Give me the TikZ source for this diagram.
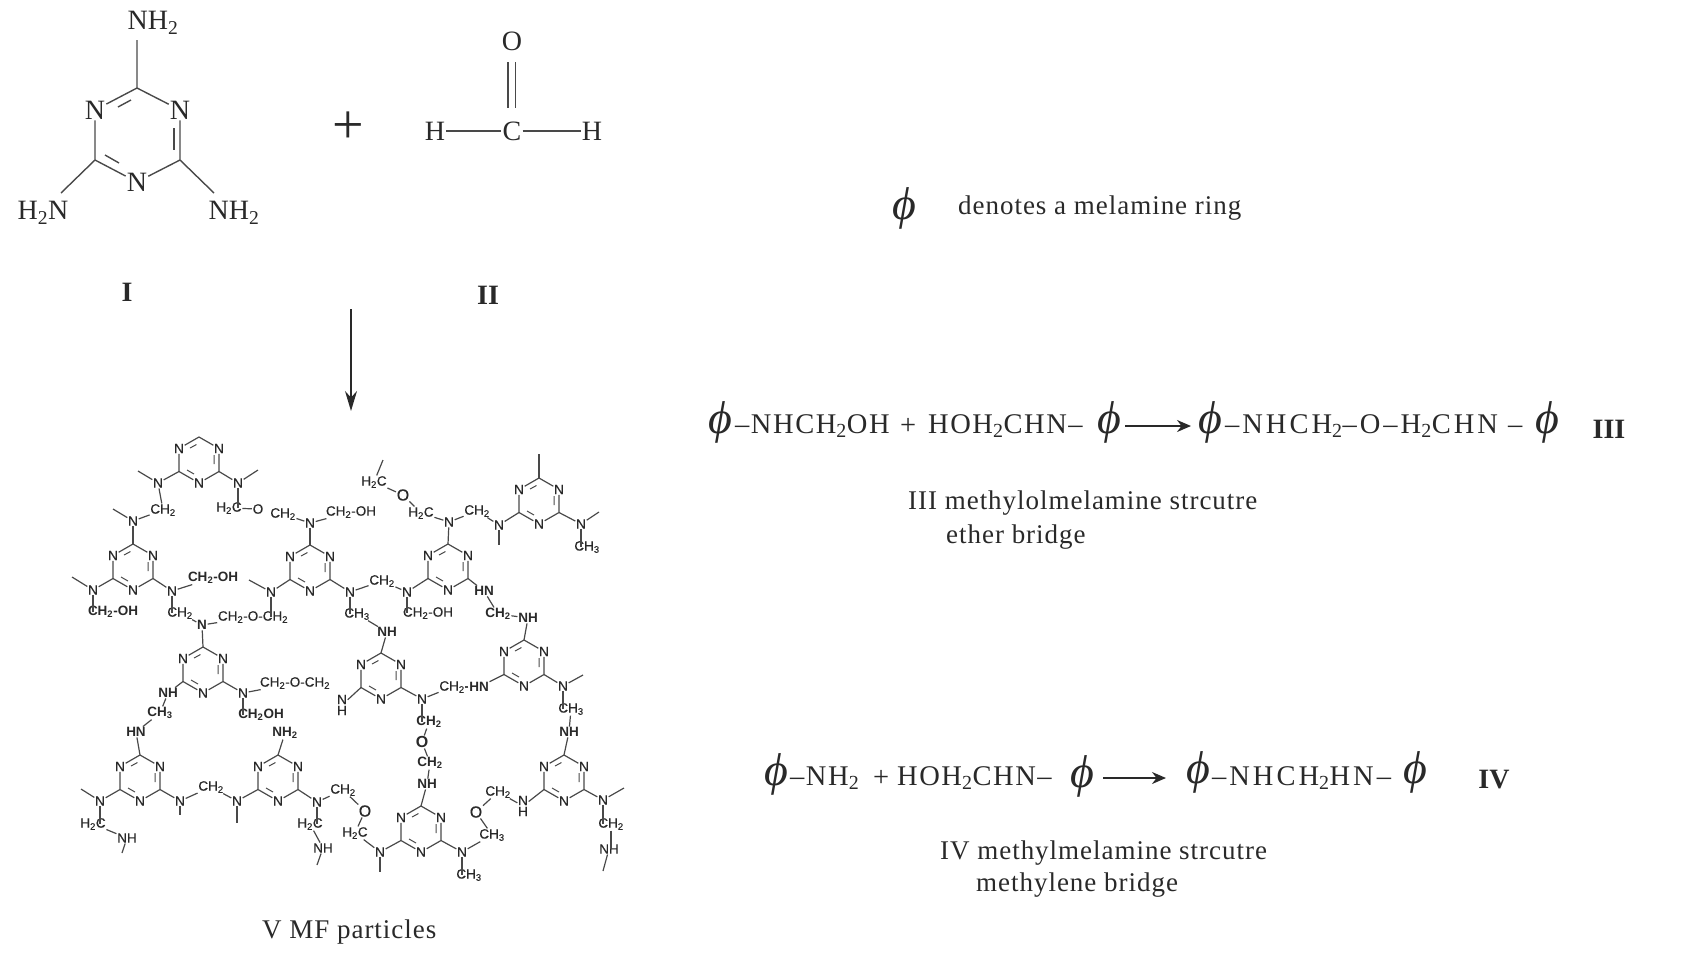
\documentclass[tikz,border=0pt]{standalone}
\usepackage{fontspec}
\setmainfont{Liberation Serif}
\setsansfont{Liberation Sans}
\newfontfamily\atomfont[FakeBold=0.35]{Liberation Sans}
\newfontfamily\captfont[LetterSpace=3.6]{Liberation Serif}
\newfontfamily\eqfont[LetterSpace=5.5]{Liberation Serif}
\newfontfamily\eqwide[LetterSpace=10.5]{Liberation Serif}
\usetikzlibrary{arrows.meta}
\definecolor{ink}{gray}{0.16}
\newcommand{\two}{\textsubscript{2}}
\newcommand{\three}{\textsubscript{3}}
\newcommand{\phiglyph}{{\fontsize{46}{46}\selectfont\itshape ϕ}}
\tikzset{
  x=1pt,y=-1pt,
  atom/.style={inner sep=0.6pt,text=ink,font=\atomfont\fontsize{13.5}{14}\selectfont},
  hatom/.style={atom,font=\sffamily\bfseries\fontsize{13.5}{14}\selectfont},
  bond/.style={draw=ink!85,line width=1.2pt},
  bigatom/.style={inner sep=1pt,text=ink,font=\fontsize{28}{30}\selectfont},
  capt/.style={inner sep=0pt,anchor=west,text=ink,font=\captfont\fontsize{27}{29}\selectfont},
  eqt/.style={inner sep=0pt,anchor=west,text=ink,font=\eqfont\fontsize{28.5}{30}\selectfont},
  eqw/.style={inner sep=0pt,anchor=west,text=ink,font=\eqwide\fontsize{28.5}{30}\selectfont},
  phn/.style={inner sep=0pt,text=ink},
  romn/.style={inner sep=0pt,text=ink,font=\bfseries\fontsize{28}{30}\selectfont},
  bigbond/.style={draw=ink!85,line width=1.4pt},
  harrow/.style={draw=ink,line width=1.8pt,-{Stealth[length=14pt,width=12pt]}}
}
% name x y : triazine ring
\newcommand{\ring}[3]{%
  \coordinate (#1t) at (#2,#3-23);
  \coordinate (#1l) at (#2-20,#3+11.5);
  \coordinate (#1r) at (#2+20,#3+11.5);
  \node[atom] (#1nl) at (#2-20,#3-11.5) {N};
  \node[atom] (#1nr) at (#2+20,#3-11.5) {N};
  \node[atom] (#1nb) at (#2,#3+23) {N};
  \draw[bond] (#1t)--(#1nl) (#1t)--(#1nr) (#1r)--(#1nr) (#1r)--(#1nb) (#1l)--(#1nb) (#1l)--(#1nl);
  \draw[bond,line width=1pt] (#2-2.5,#3-15.5)--(#2-9,#3-12) (#2-12,#3+10)--(#2-5,#3+14) (#2+15,#3+4)--(#2+15,#3-5);
}
\newcommand{\A}[4]{\node[atom] (#1) at (#2,#3) {#4};}
\newcommand{\Ab}[4]{\node[hatom] (#1) at (#2,#3) {#4};}
\newcommand{\B}[2]{\draw[bond] (#1)--(#2);}
\newcommand{\V}[2]{\draw[bond] (#1)--(#1|-#2);}
\newcommand{\F}[3]{\coordinate (#1-f) at (#2,#3);\draw[bond] (#1)--(#1-f);}
\begin{document}
\begin{tikzpicture}
\useasboundingbox (0,0) rectangle (1695,954);
% melamine
\node[bigatom] (tn) at (153,23) {NH\two};
\coordinate (tc1) at (137,88);
\node[bigatom] (nl) at (95,110) {N};
\node[bigatom] (nr) at (180,110) {N};
\coordinate (tcl) at (95,160);
\coordinate (tcr) at (180,160);
\node[bigatom] (nb) at (137,182) {N};
\node[bigatom] (ln) at (43,213) {H\two N};
\node[bigatom] (rn) at (234,213) {NH\two};
\coordinate (tnb) at (137,40);
\coordinate (lnb) at (61,193);
\coordinate (rnb) at (214,193);
\draw[bigbond] (tnb)--(tc1) (tc1)--(nl) (tc1)--(nr) (tcr)--(nr) (tcr)--(nb) (tcl)--(nb) (tcl)--(nl) (tcl)--(lnb) (tcr)--(rnb);
\draw[bigbond] (118,107)--(131,100);
\draw[bigbond] (105,155)--(119,163);
\draw[bigbond] (174,128)--(174,150);
\node[bigatom] (plus) at (348,128) {\fontsize{56}{56}\selectfont +};
% formaldehyde
\node[bigatom] (oo) at (512,41) {O};
\node[bigatom] (cc) at (512,131) {C};
\node[bigatom] (h1) at (435,131) {H};
\node[bigatom] (h2) at (592,131) {H};
\draw[bigbond] (508,62)--(508,108) (515.5,62)--(515.5,108);
\draw[bigbond] (h1)--(cc) (cc)--(h2);
\node[romn] (lI) at (127,292) {I};
\node[romn] (lII) at (488,295) {II};
\coordinate (ars) at (351,309);
\coordinate (are) at (351,411);
\draw[draw=ink,line width=1.5pt,-{Stealth[length=20pt,width=12pt]}] (ars)--(are);
% legend
\node[phn] (p0) at (904,208) {\phiglyph};
\node[capt] (den) at (958,208) {denotes a melamine ring};
% equation III
\node[phn] (p1) at (720,422) {\phiglyph};
\node[eqt] (t1) at (735,426) {–NHCH\two OH};
\node[eqt] (pl1) at (900,426) {+};
\node[eqt] (t2) at (928,426) {HOH\two CHN–};
\node[phn] (p2) at (1109,422) {\phiglyph};
\node[phn] (p3) at (1210,422) {\phiglyph};
\coordinate (a1s) at (1125,426);
\coordinate (a1e) at (1191,426);
\draw[harrow] (a1s) -- (a1e);
\node[eqw] (t3) at (1225,426) {–NHCH\two–O–H\two CHN –};
\node[phn] (p4) at (1547,422) {\phiglyph};
\node[romn] (lIII) at (1609,429) {III};
\node[capt] (c1) at (908,503) {III methylolmelamine strcutre};
\node[capt] (c2) at (946,537) {ether bridge};
% equation IV
\node[phn] (p5) at (776,774) {\phiglyph};
\node[eqt] (t4) at (790,778) {–NH\two};
\node[eqt] (pl2) at (873,778) {+};
\node[eqt] (t5) at (897,778) {HOH\two CHN–};
\node[phn] (p6) at (1082,776) {\phiglyph};
\node[phn] (p7) at (1198,772) {\phiglyph};
\coordinate (a2s) at (1103,778);
\coordinate (a2e) at (1166,778);
\draw[harrow] (a2s)--(a2e);
\node[eqw] (t6) at (1212,778) {–NHCH\two HN–};
\node[phn] (p8) at (1415,772) {\phiglyph};
\node[romn] (lIV) at (1494,780) {IV};
\node[capt] (c3) at (940,853) {IV methylmelamine strcutre};
\node[capt] (c4) at (976,885) {methylene bridge};
\node[capt] (c5) at (262,932) {V MF particles};
% rings
\ring{R1}{199}{460}
\ring{R2}{133}{567}
\ring{R3}{310}{568}
\ring{R4}{448}{567}
\ring{R5}{539}{501}
\ring{R6}{203}{670}
\ring{R7}{381}{676}
\ring{R8}{524}{663}
\ring{R9}{140}{778}
\ring{R10}{278}{778}
\ring{R11}{421}{829}
\ring{R12}{564}{778}
% R1
\A{a1}{158}{483}{N}\A{a2}{238}{483}{N}
\B{R1l}{a1}\B{R1r}{a2}\F{a1}{138}{471}\F{a2}{258}{470}
\A{a3}{163}{510}{CH\two}\B{a1}{a3}
\A{a4}{229}{508}{H\two C}\A{a5}{258}{509}{O}\V{a2}{a4}\B{a4}{a5}
% R2
\A{b1}{133}{521}{N}\B{R2t}{b1}\F{b1}{113}{509}\B{b1}{a3}
\A{b2}{93}{590}{N}\B{R2l}{b2}\F{b2}{72}{577}
\Ab{b3}{113}{612}{CH\two-OH}\V{b2}{b3}
\A{b4}{172}{591}{N}\B{R2r}{b4}
\Ab{b5}{213}{578}{CH\two-OH}\B{b4}{b5}
\A{b6}{180}{613}{CH\two}\V{b4}{b6}
\Ab{b7}{202}{625}{N}\B{b6}{b7}\B{R6t}{b7}
\A{b8}{253}{617}{CH\two-O-CH\two}\B{b7}{b8}
% R3
\A{c1a}{271}{592}{N}\B{R3l}{c1a}\F{c1a}{249}{580}\V{c1a}{b8}
\A{c2a}{310}{523}{N}\B{R3t}{c2a}
\A{c3a}{283}{514}{CH\two}\B{c2a}{c3a}
\A{c4a}{351}{512}{CH\two-OH}\B{c2a}{c4a}
\A{c5a}{350}{592}{N}\B{R3r}{c5a}
\A{c6a}{382}{581}{CH\two}\B{c5a}{c6a}
\A{c7a}{357}{614}{CH\three}\V{c5a}{c7a}
\Ab{c8a}{387}{632}{NH}\B{c7a}{c8a}\B{R7t}{c8a}
% R4
\A{d1}{407}{592}{N}\B{R4l}{d1}\B{c6a}{d1}
\A{d2}{428}{613}{CH\two-OH}\V{d1}{d2}
\A{d3}{449}{522}{N}\B{R4t}{d3}
\A{d4}{421}{513}{H\two C}\B{d3}{d4}
\A{d5}{477}{511}{CH\two}\B{d3}{d5}
\A{d6}{403}{495}{\fontsize{16}{16}\selectfont O}\B{d4}{d6}
\A{d7}{374}{482}{H\two C}\B{d6}{d7}\F{d7}{383}{460}
\A{d8}{499}{525}{N}\B{d5}{d8}\F{d8}{499}{545}\B{d8}{R5l}
% R5
\F{R5t}{539}{454}
\A{e1}{581}{524}{N}\B{R5r}{e1}\F{e1}{599}{512}
\A{e2}{587}{547}{CH\three}\V{e1}{e2}
% R4 right
\Ab{d9}{484}{591}{HN}\B{R4r}{d9}
\Ab{d10}{498}{614}{CH\two}\B{d9}{d10}
\Ab{d11}{528}{618}{NH}\B{d10}{d11}\B{R8t}{d11}
% R8
\Ab{f1}{479}{687}{HN}\B{R8l}{f1}
\A{f2}{452}{687}{CH\two}\B{f1}{f2}
\A{f3}{422}{699}{N}\B{R7r}{f3}\B{f3}{f2}
\Ab{f4}{429}{722}{CH\two}\V{f3}{f4}
\Ab{f5}{422}{742}{\fontsize{16}{16}\selectfont O}\B{f4}{f5}
\Ab{f6}{430}{763}{CH\two}\B{f5}{f6}
\Ab{f7}{427}{784}{NH}\B{f6}{f7}\B{R11t}{f7}
\node[atom,align=center] (f8) at (342,705) {N\\[-3pt]H};\B{R7l}{f8}
\A{g1}{563}{686}{N}\B{R8r}{g1}\F{g1}{583}{675}
\A{g2}{571}{709}{CH\three}\V{g1}{g2}
\Ab{g3}{569}{732}{NH}\B{g2}{g3}\B{R12t}{g3}
% R6
\A{h1a}{243}{693}{N}\B{R6r}{h1a}
\A{h2a}{295}{683}{CH\two-O-CH\two}\B{h1a}{h2a}
\Ab{h3a}{261}{715}{CH\two OH}\V{h1a}{h3a}
\Ab{h4a}{168}{693}{NH}\B{R6l}{h4a}
\Ab{h5a}{160}{713}{CH\three}\B{h4a}{h5a}
\Ab{h6a}{136}{732}{HN}\B{h5a}{h6a}\B{R9t}{h6a}
% R9
\A{i1}{100}{801}{N}\B{R9l}{i1}\F{i1}{81}{789}
\A{i2}{93}{824}{H\two C}\V{i1}{i2}
\A{i3}{127}{838}{NH}\B{i2}{i3}\F{i3}{122}{853}
\A{i4}{180}{801}{N}\B{R9r}{i4}\F{i4}{180}{815}
\A{i5}{211}{787}{CH\two}\B{i4}{i5}
\A{i6}{237}{801}{N}\B{i5}{i6}\F{i6}{237}{823}\B{i6}{R10l}
% R10
\Ab{j1}{285}{733}{NH\two}\B{R10t}{j1}
\A{j2}{317}{802}{N}\B{R10r}{j2}
\A{j3}{343}{790}{CH\two}\B{j2}{j3}
\A{j4}{310}{824}{H\two C}\V{j2}{j4}
\A{j5}{323}{848}{NH}\B{j4}{j5}\F{j5}{317}{865}
\A{j6}{365}{811}{\fontsize{16}{16}\selectfont O}\B{j3}{j6}
\A{j7}{355}{833}{H\two C}\B{j6}{j7}
% R11
\A{k1}{380}{852}{N}\B{j7}{k1}\F{k1}{380}{872}\B{k1}{R11l}
\A{k2}{462}{852}{N}\B{R11r}{k2}
\A{k3}{469}{875}{CH\three}\V{k2}{k3}
\A{k4}{492}{835}{CH\three}\B{k2}{k4}
\A{k5}{476}{812}{\fontsize{16}{16}\selectfont O}\B{k4}{k5}
\A{k6}{498}{792}{CH\two}\B{k5}{k6}
\node[atom,align=center] (k7) at (523,806) {N\\[-3pt]H};\B{k6}{k7}\B{k7}{R12l}
% R12
\A{l1}{603}{800}{N}\B{R12r}{l1}\F{l1}{624}{788}
\A{l2}{611}{824}{CH\two}\V{l1}{l2}
\A{l3}{609}{849}{NH}\V{l2}{l3}\F{l3}{603}{871}
\end{tikzpicture}
\end{document}
